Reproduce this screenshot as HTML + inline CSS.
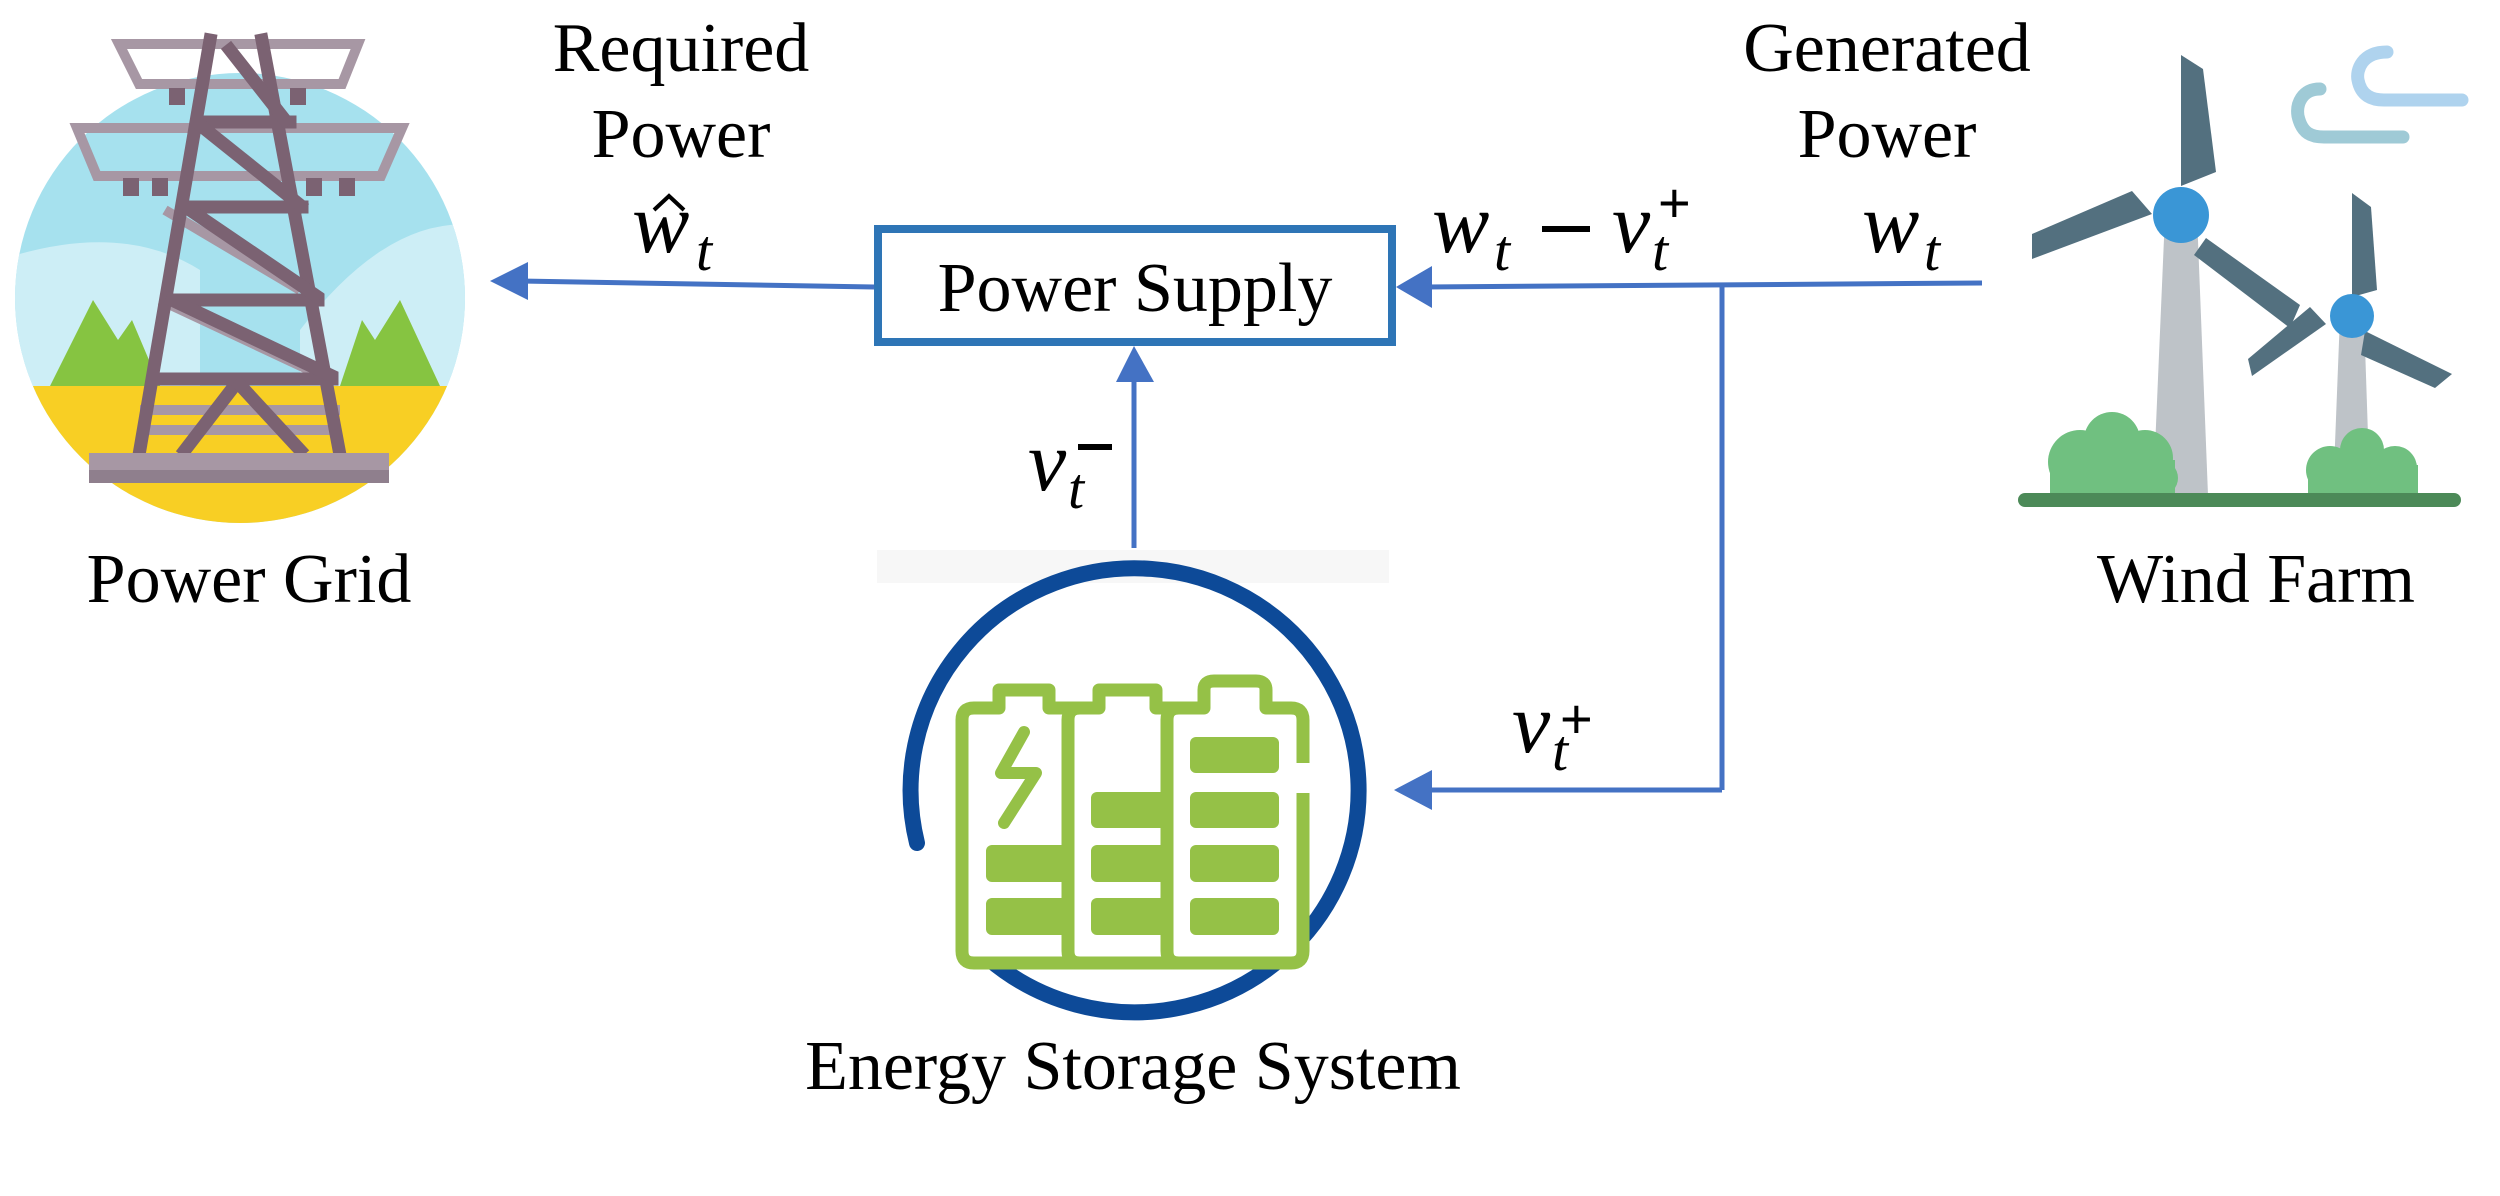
<!DOCTYPE html>
<html><head><meta charset="utf-8"><style>
html,body{margin:0;padding:0;background:#fff;}
svg{display:block;}
.t{font-family:"Liberation Serif",serif;font-size:70px;fill:#000;}
.m{font-family:"Liberation Serif",serif;font-style:italic;font-size:86px;fill:#000;}
.s{font-family:"Liberation Serif",serif;font-style:italic;font-size:58px;fill:#000;}
</style></head><body>
<svg width="2500" height="1196" viewBox="0 0 2500 1196" xmlns="http://www.w3.org/2000/svg">
<defs><clipPath id="gc"><circle cx="240" cy="298" r="225"/></clipPath></defs>
<g clip-path="url(#gc)">
<rect x="0" y="60" width="500" height="480" fill="#a6e1ee"/>
<path d="M0 260 Q120 220 200 270 L200 400 L0 400Z" fill="#cdeef6"/>
<path d="M300 330 Q400 200 500 230 L500 400 L300 400Z" fill="#cdeef6"/>
<path d="M50 386 L93 300 L118 340 L132 320 L160 386Z" fill="#86c441"/>
<path d="M340 386 L362 320 L375 340 L400 300 L440 386Z" fill="#86c441"/>
<rect x="0" y="386" width="500" height="160" fill="#f8cf24"/>
</g>
<g fill="none" stroke="#a797a4" stroke-width="10">
<path d="M119 44 H358 L342 84 H139 Z"/>
<path d="M77 128 H402 L381 176 H97 Z"/>
<line x1="160" y1="300" x2="320" y2="375"/><line x1="165" y1="210" x2="300" y2="290"/>
<line x1="140" y1="410" x2="340" y2="410"/><line x1="140" y1="430" x2="340" y2="430"/>
</g>
<g fill="#7b6272">
<rect x="169" y="88" width="16" height="17"/><rect x="290" y="88" width="16" height="17"/>
<rect x="123" y="178" width="16" height="18"/><rect x="152" y="178" width="16" height="18"/>
<rect x="306" y="178" width="16" height="18"/><rect x="339" y="178" width="16" height="18"/>
</g>
<g stroke="#7b6272" stroke-width="13" fill="none" stroke-linecap="square">
<line x1="210" y1="40" x2="139" y2="455"/><line x1="262" y1="40" x2="340" y2="455"/>
<line x1="200" y1="122" x2="290" y2="122"/><line x1="186" y1="207" x2="302" y2="207"/>
<line x1="172" y1="300" x2="318" y2="300"/><line x1="156" y1="379" x2="332" y2="379"/>
<line x1="230" y1="50" x2="285" y2="120"/><line x1="200" y1="125" x2="300" y2="205"/>
<line x1="190" y1="210" x2="315" y2="295"/><line x1="172" y1="300" x2="330" y2="375"/>
<line x1="235" y1="385" x2="185" y2="450"/><line x1="240" y1="385" x2="300" y2="450"/>
</g>
<rect x="89" y="453" width="300" height="30" fill="#a797a4"/>
<rect x="89" y="470" width="300" height="13" fill="#8f7f8d"/>

<g fill="none" stroke-linecap="round" stroke-width="13">
<path d="M2387 52 C2362 52 2356 70 2358 80 C2361 96 2372 100 2384 100 L2462 100" stroke="#afd3ee"/>
<path d="M2320 89 C2302 89 2296 104 2298 116 C2302 134 2312 137 2324 137 L2403 137" stroke="#9fcad6"/>
</g>
<path d="M2165 215 L2197 215 L2208 495 L2153 495Z" fill="#bec3c8"/>
<path d="M2340 316 L2364 316 L2370 495 L2333 495Z" fill="#bec3c8"/>
<g fill="#53707f">
<path d="M2181 55 L2203 69 L2216 172 L2181 186Z"/>
<path d="M2032 234 L2132 191 L2152 214 L2032 259Z"/>
<path d="M2194 255 L2206 238 L2300 305 L2290 328Z"/>
<path d="M2352 193 L2371 207 L2377 290 L2352 297Z"/>
<path d="M2248 359 L2310 307 L2326 324 L2252 376Z"/>
<path d="M2365 331 L2452 374 L2435 388 L2361 355Z"/>
</g>
<circle cx="2181" cy="215" r="28" fill="#3a96d6"/>
<circle cx="2352" cy="316" r="22" fill="#3a96d6"/>
<g fill="#70c080">
<circle cx="2080" cy="462" r="32"/><circle cx="2112" cy="440" r="28"/><circle cx="2145" cy="458" r="28"/><circle cx="2160" cy="478" r="18"/><rect x="2050" y="460" width="125" height="35"/>
<circle cx="2330" cy="470" r="24"/><circle cx="2362" cy="450" r="22"/><circle cx="2395" cy="468" r="22"/><rect x="2308" y="465" width="110" height="30"/>
</g>
<rect x="2018" y="493" width="443" height="14" rx="7" fill="#4c8a58"/>

<text class="t" x="681" y="71" text-anchor="middle">Required</text>
<text class="t" x="681" y="157" text-anchor="middle">Power</text>
<text class="t" x="1887" y="71" text-anchor="middle">Generated</text>
<text class="t" x="1887" y="157" text-anchor="middle">Power</text>
<text class="t" x="249" y="602" text-anchor="middle">Power Grid</text>
<text class="t" x="2256" y="602" text-anchor="middle">Wind Farm</text>
<text class="t" x="1133" y="1089" text-anchor="middle">Energy Storage System</text>

<rect x="878" y="229" width="514" height="113" fill="#fff" stroke="#2e75b6" stroke-width="8"/>
<text class="t" x="1135" y="311" text-anchor="middle">Power Supply</text>

<text class="m" x="632" y="252">w</text><path d="M654 210 L669 196 L684 210" fill="none" stroke="#000" stroke-width="4"/><text class="s" x="696" y="270">t</text>
<text class="m" x="1432" y="252">w</text><text class="s" x="1494" y="270">t</text>
<rect x="1542" y="226" width="48" height="6" fill="#000"/>
<text class="m" x="1612" y="252">v</text><text class="s" x="1652" y="270">t</text>
<text x="1658" y="222" font-family="Liberation Sans" font-size="56">+</text>
<text class="m" x="1862" y="252">w</text><text class="s" x="1924" y="270">t</text>
<text class="m" x="1028" y="490">v</text><text class="s" x="1068" y="508">t</text>
<rect x="1078" y="444" width="34" height="6" fill="#000"/>
<text class="m" x="1512" y="752">v</text><text class="s" x="1552" y="770">t</text>
<text x="1560" y="738" font-family="Liberation Sans" font-size="56">+</text>

<g stroke="#4472c4" stroke-width="5" fill="none">
<line x1="874" y1="287" x2="520" y2="281"/>
<line x1="1982" y1="283" x2="1425" y2="287"/>
<line x1="1722" y1="285" x2="1722" y2="790"/>
<line x1="1722" y1="790" x2="1425" y2="790"/>
<line x1="1134" y1="548" x2="1134" y2="375"/>
</g>
<g fill="#4472c4">
<path d="M490 281 L528 262 L528 300Z"/>
<path d="M1396 287 L1432 266 L1432 308Z"/>
<path d="M1394 790 L1432 770 L1432 810Z"/>
<path d="M1134 346 L1116 382 L1154 382Z"/>
</g>

<rect x="877" y="550" width="512" height="33" fill="#f7f7f7"/>
<path d="M989 959 A224 222 0 1 0 917 843" fill="none" stroke="#0d4a98" stroke-width="16" stroke-linecap="round"/>
<g fill="#fff" stroke="#95c147" stroke-width="13" stroke-linejoin="round">
<path d="M962 720 Q962 708 974 708 H999 V690 H1049 V708 H1080 V963 H974 Q962 963 962 951Z"/>
<path d="M1068 720 Q1068 708 1080 708 H1099 V690 H1156 V708 H1180 V963 H1080 Q1068 963 1068 951Z"/>
<path d="M1303 763 V720 Q1303 708 1291 708 H1266 V690 Q1266 681 1256 681 H1214 Q1204 681 1204 690 V708 H1179 Q1167 708 1167 720 V951 Q1167 963 1179 963 H1291 Q1303 963 1303 951 V793"/>
</g>
<g fill="#95c147">
<rect x="1190" y="737" width="89" height="36" rx="6"/>
<rect x="1190" y="792" width="89" height="36" rx="6"/>
<rect x="1190" y="845" width="89" height="37" rx="6"/>
<rect x="1190" y="898" width="89" height="37" rx="6"/>
<rect x="1091" y="792" width="76" height="36" rx="6"/>
<rect x="1091" y="845" width="76" height="37" rx="6"/>
<rect x="1091" y="898" width="76" height="37" rx="6"/>
<rect x="986" y="845" width="82" height="37" rx="6"/>
<rect x="986" y="898" width="82" height="37" rx="6"/>
</g>
<path d="M1024 732 L1001 773 L1036 773 L1004 823" fill="none" stroke="#95c147" stroke-width="12" stroke-linecap="round" stroke-linejoin="round"/>
</svg>
</body></html>
